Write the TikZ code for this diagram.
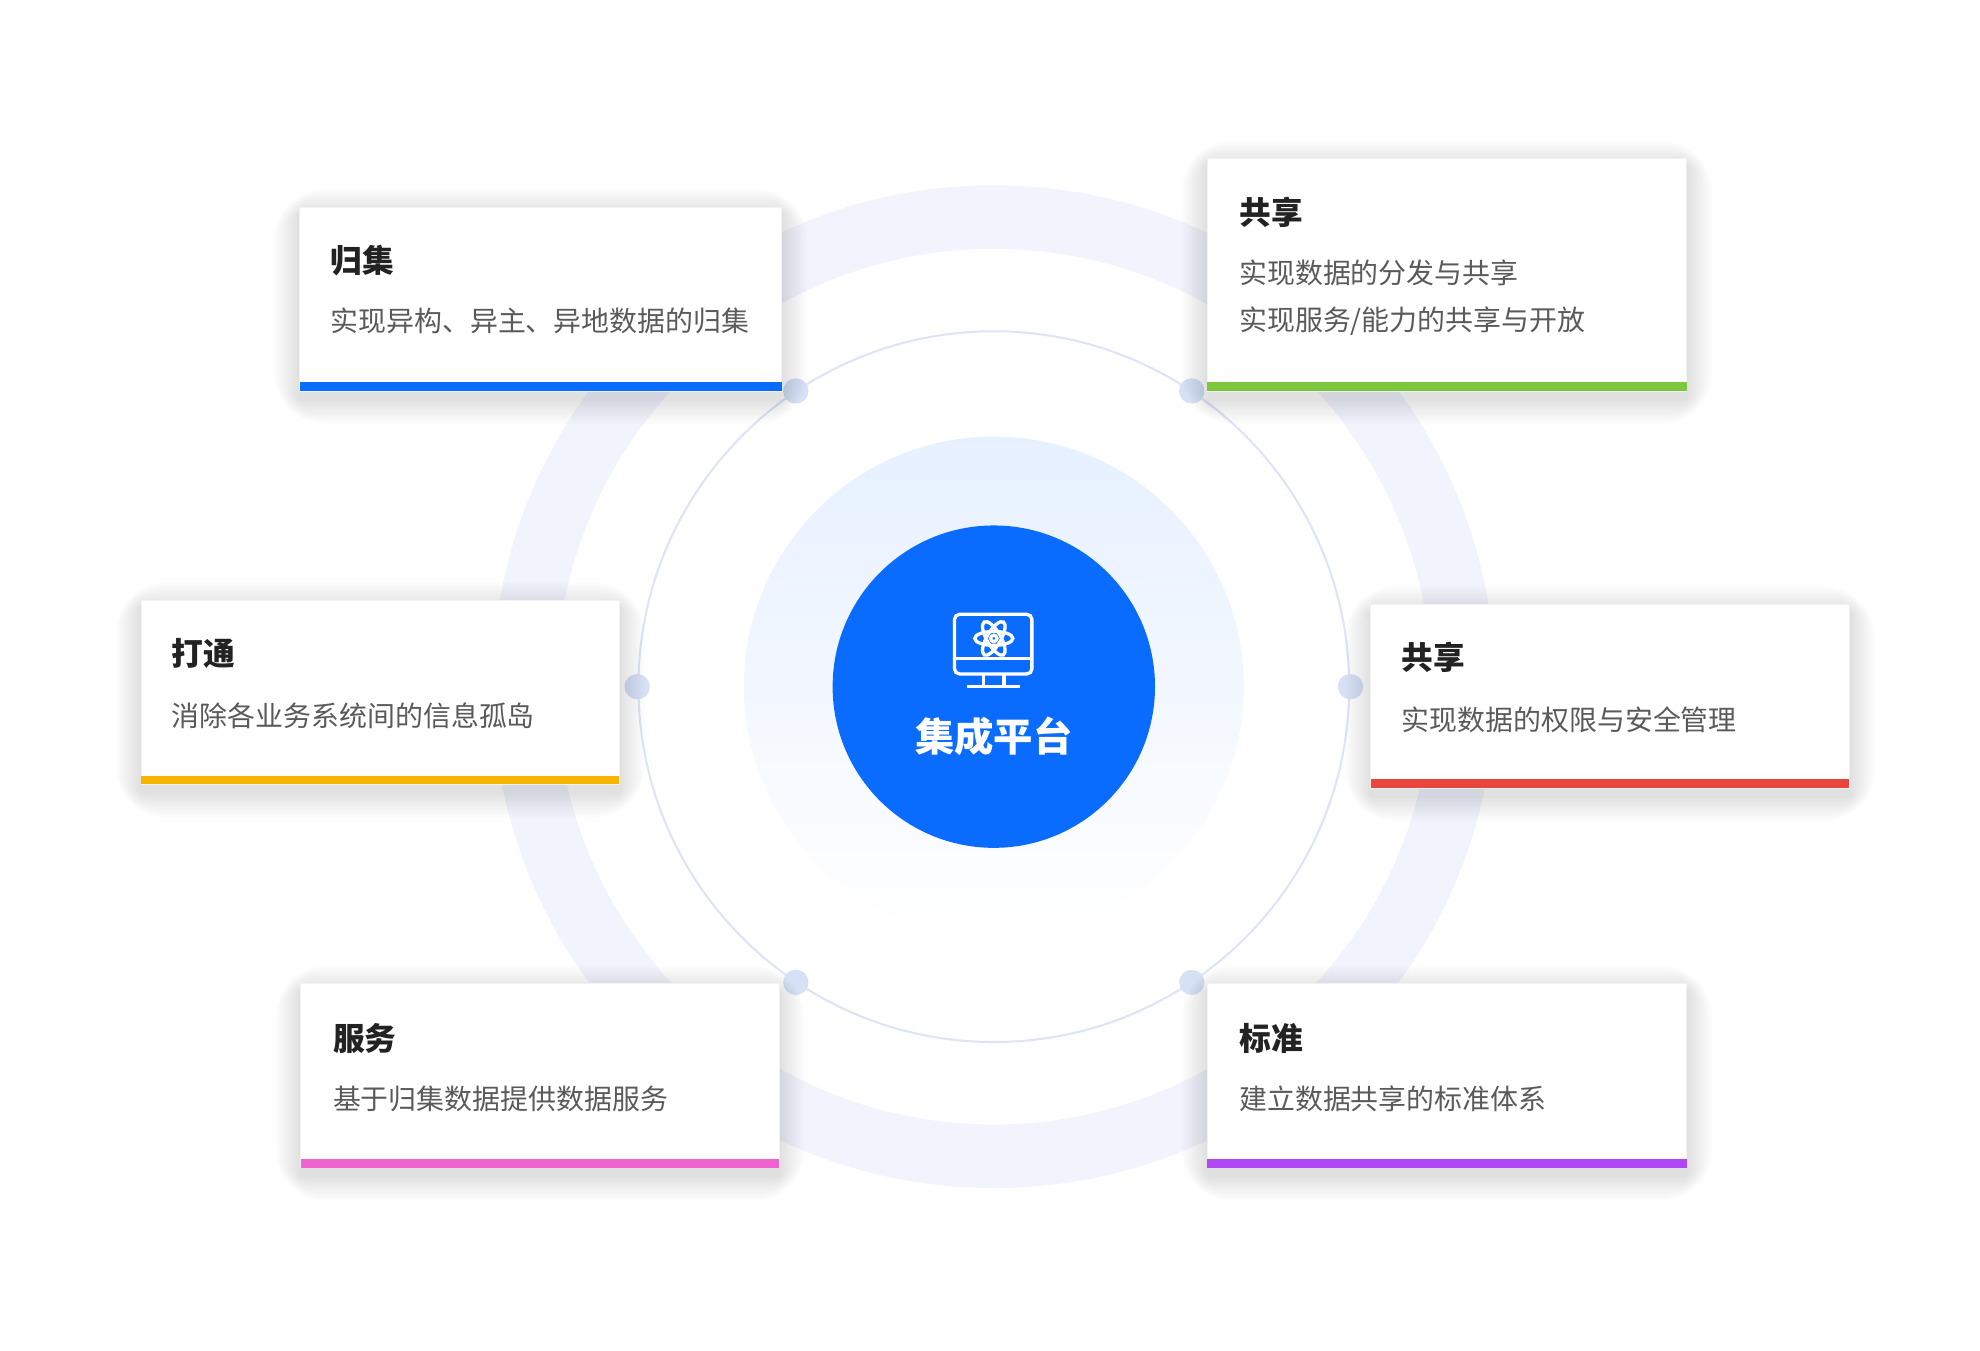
\documentclass[tikz,border=0pt]{standalone}
\usepackage{fontspec}
\setmainfont{Noto Sans CJK SC}
\definecolor{mblue}{HTML}{0A6CFF}
\definecolor{ringc}{HTML}{F1F4FC}
\definecolor{thinc}{HTML}{DCE4F5}
\definecolor{dotc}{HTML}{D6E1F6}
\definecolor{tgray}{HTML}{5A5A5A}
\definecolor{tdark}{HTML}{222222}
\definecolor{cgreen}{HTML}{7DC73F}
\definecolor{cyellow}{HTML}{F7B500}
\definecolor{cred}{HTML}{E8453C}
\definecolor{cpink}{HTML}{F062CF}
\definecolor{cpurple}{HTML}{B146F5}
\begin{document}
\begin{tikzpicture}[x=0.5pt,y=-0.5pt,
  card/.style={fill=white,draw=black!5,line width=0.3pt,outer sep=0pt,inner sep=0pt},
  ttl/.style={anchor=west,font=\fontsize{12.5}{14}\selectfont\bfseries,text=tdark,inner sep=0},
  txt/.style={anchor=west,font=\fontsize{11}{12}\selectfont,text=tgray,inner sep=0},
  dotn/.style={circle,fill=dotc,minimum size=10pt,inner sep=0}]
\useasboundingbox (0,0) rectangle (1560,1064);
\fill[white] (0,0) rectangle (1560,1064);
\coordinate (c) at (783,541);
\draw[ringc,line width=25pt] (c) circle (370);
\shade[top color=mblue!10,bottom color=white] (c) circle (197);
\draw[thinc,line width=0.8pt] (c) circle (280);
\foreach \n/\x/\y in {d1/627/308,d2/939/308,d3/502/541,d4/1064/541,d5/627/774,d6/939/774}
  \node[dotn] (\n) at (\x,\y) {};
\node[circle,fill=mblue,minimum size=127pt,inner sep=0] (core) at (c) {};
\node[text=white,font=\fontsize{15.5}{18}\selectfont\bfseries] (lbl) at (783,580) {集成平台};
\begin{scope}[white,line width=1.3pt]
\draw[rounded corners=2] (752,484) rectangle (813,531);
\draw (752,519) -- (813,519);
\draw (775,531) -- (775,540) (791,531) -- (791,540);
\draw (762,541) -- (804,541);
\draw (783,503) circle (2.5);
\foreach \a in {0,60,120} \draw[rotate around={\a:(783,503)}] (783,503) ellipse (15 and 5.5);
\end{scope}
\newcommand{\mycard}[6]{%
  \foreach \s in {2,4,...,20}
    \fill[black,opacity=0.012,rounded corners=\s] (#1-\s,#2-\s+6) rectangle (#3+\s,#4+\s+6);
  \node[card,minimum width=#3*0.5pt-#1*0.5pt,minimum height=#4*0.5pt-#2*0.5pt,anchor=north west] (#5) at (#1,#2) {};
  \fill[#6] (#1,#4-7) rectangle (#3,#4);}
\mycard{236}{163}{616}{308}{c1}{mblue}
\mycard{951}{125}{1329}{308}{c2}{cgreen}
\mycard{111}{473}{488}{618}{c3}{cyellow}
\mycard{1080}{476}{1457}{621}{c4}{cred}
\mycard{237}{775}{614}{920}{c5}{cpink}
\mycard{951}{775}{1329}{920}{c6}{cpurple}
\node[ttl] (t1) at (260,205) {归集};
\node[txt] (x1) at (260,253) {实现异构、异主、异地数据的归集};
\node[ttl] (t2) at (976,167) {共享};
\node[txt] (x2) at (976,215) {实现数据的分发与共享};
\node[txt] (y2) at (976,253) {实现服务/能力的共享与开放};
\node[ttl] (t3) at (135,515) {打通};
\node[txt] (x3) at (135,564) {消除各业务系统间的信息孤岛};
\node[ttl] (t4) at (1104,518) {共享};
\node[txt] (x4) at (1104,567) {实现数据的权限与安全管理};
\node[ttl] (t5) at (262,818) {服务};
\node[txt] (x5) at (262,866) {基于归集数据提供数据服务};
\node[ttl] (t6) at (976,818) {标准};
\node[txt] (x6) at (976,866) {建立数据共享的标准体系};
\end{tikzpicture}
\end{document}
